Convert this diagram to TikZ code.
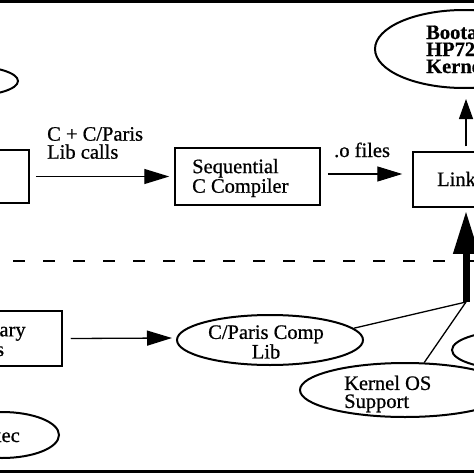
\documentclass[tikz,border=0pt]{standalone}
\usepackage{fontspec}
\setmainfont{Liberation Serif}[FakeBold=0.7]
\usetikzlibrary{arrows.meta,shapes.geometric,calc}
\begin{document}
\begin{tikzpicture}[x=1pt,y=-1pt,
  boxnode/.style={draw,line width=1.5pt,rectangle,inner sep=0pt},
  ellnode/.style={draw,line width=2pt,ellipse,inner sep=0pt},
  txt/.style={inner sep=0pt,font=\fontsize{20.5}{18}\selectfont,align=left},
  boldtxt/.style={inner sep=0pt,font=\fontsize{20.5}{17}\selectfont\bfseries,align=left},
  flow/.style={line width=1.3pt,-{Triangle[length=25pt,width=15pt]}},
  feed/.style={line width=1.3pt}]
\useasboundingbox (0,0) rectangle (474,474);
\clip (0,0) rectangle (474,474);
\fill[white] (0,0) rectangle (474,474);

% frame lines
\coordinate (tl) at (0,1.5); \coordinate (tr) at (474,1.5);
\coordinate (bl) at (0,471.5); \coordinate (br) at (474,471.5);
\draw[line width=3pt] (tl) -- (tr);
\draw[line width=3pt] (bl) -- (br);

% upper row
\node[ellnode,minimum width=100pt,minimum height=30pt] (tlell) at (-32,81) {};
\node[boxnode,minimum width=120pt,minimum height=53pt] (lbox) at (-31,176.5) {};
\node[boxnode,minimum width=145pt,minimum height=57pt] (seq) at (247.5,176.5) {};
\node[txt,anchor=west] (seqt) at (192,178) {Sequential\\C Compiler};
\node[boxnode,minimum width=102pt,minimum height=55pt] (link) at (464,179.5) {};
\node[txt,anchor=base west] (linkt) at (437,186) {Linker};
\node[ellnode,minimum width=178pt,minimum height=78pt] (boot) at (464,49) {};
\node[boldtxt,anchor=west] (boott) at (426,49) {Bootable\\HP720\\Kernel};

\node[txt,anchor=west] (lab1) at (47,143) {C + C/Paris\\Lib calls};
\node[txt,anchor=base west] (lab2) at (334,157) {.o files};

\draw[flow] ($(lbox.east)+(6,0)$) -- ($(seq.west)+(-5,0)$);
\draw[flow] ($(seq.east)+(7,-2.5)$) -- ($(link.west)+(-10,-5.5)$);
\draw[line width=1.3pt,-{Triangle[length=20pt,width=14pt]}] ($(link.north)+(2,-5)$) -- ($(boot.south)+(2,10)$);

% dashed separator
\coordinate (d1) at (13,261); \coordinate (d2) at (474,261);
\draw[line width=2.5pt,dash pattern=on 12pt off 18pt] (d1) -- (d2);

% lower row
\node[boxnode,minimum width=120pt,minimum height=55pt] (blbox) at (2,338.5) {};
\node[txt,anchor=base west] (blt) at (-36,356) {Library\\Files};
\node[ellnode,minimum width=186pt,minimum height=50pt] (cpc) at (270,340) {};
\node[txt,align=center] (cpct) at (266,342) {C/Paris Comp\\Lib};
\node[ellnode,minimum width=210pt,minimum height=54pt] (kos) at (405,390) {};
\node[txt,anchor=west] (kost) at (344,394) {Kernel OS\\Support};
\node[ellnode,minimum width=136pt,minimum height=40pt] (rell) at (520,350) {};
\node[ellnode,minimum width=114pt,minimum height=46pt] (exec) at (2,435) {};
\node[txt,anchor=base east] (exect) at (20,442) {Exec};

\draw[flow] ($(blbox.east)+(8,0)$) -- ($(cpc.west)+(-4,-2)$);

\coordinate (hub) at (466,302);
\draw[feed] (cpc.8) -- (hub);
\draw[feed] (kos.55) -- (hub);
\draw[line width=7pt,-{Triangle[length=43pt,width=24pt]}] (hub) -- ($(link.south)+(2,3)$);
\end{tikzpicture}
\end{document}
